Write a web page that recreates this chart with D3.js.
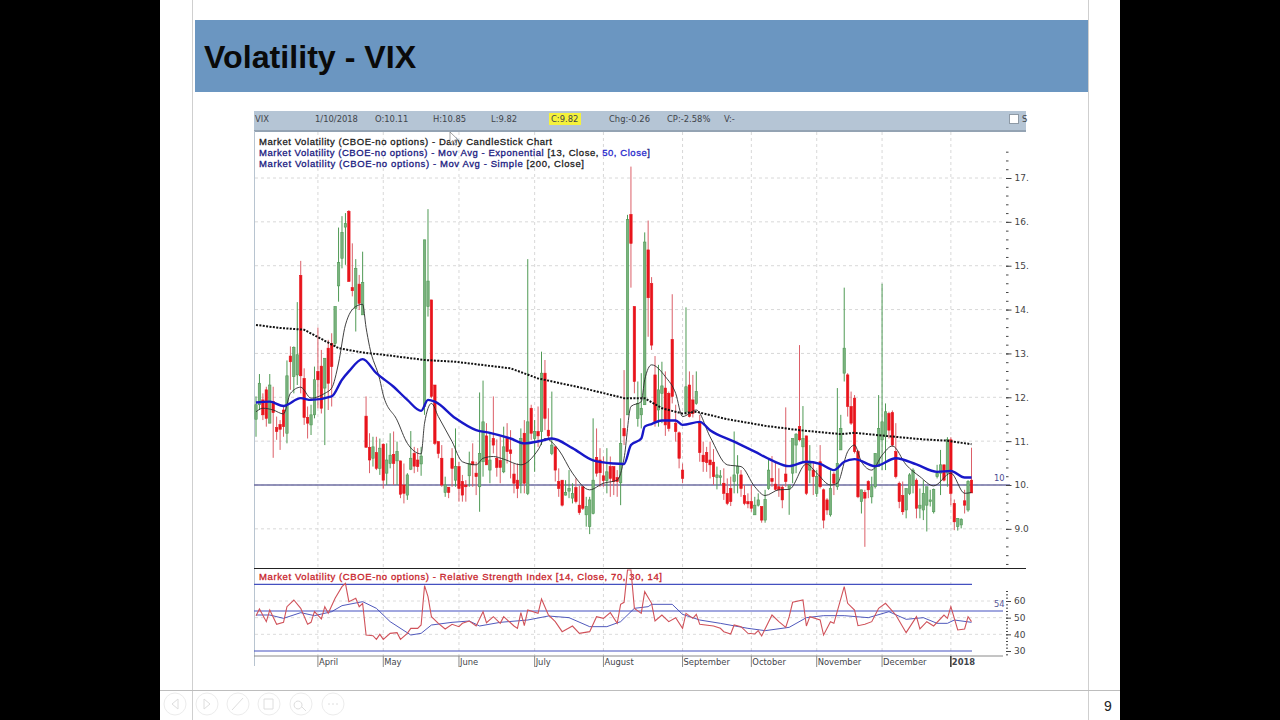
<!DOCTYPE html>
<html lang="en">
<head>
<meta charset="UTF-8">
<title>Volatility - VIX</title>
<script src="https://d3js.org/d3.v7.min.js"></script>
<style>
  html, body { margin: 0; padding: 0; background: #000; overflow: hidden; }
  svg { display: block; }
  .ui { font-family: "DejaVu Sans", sans-serif; font-size: 8.4px; fill: #3f444a; }
  .legend { font-family: "Liberation Sans", sans-serif; font-size: 9.5px; stroke-width: 0.3; }
  .axis text { font-family: "DejaVu Sans", sans-serif; font-size: 9px; fill: #444; }
  .axis path { display: none; }
  .axis line { stroke: #444; }
</style>
</head>
<body>
<script>
// ---- daily candles ----
const highs = [
  12.02,12.53,12.09,12.24,12.53,12.24,11.56,11.48,11.79,12.84,
  13.16,13.16,14.17,15.11,12.66,11.79,11.83,12.70,13.59,13.08,
  12.89,13.31,13.46,14.07,15.87,16.13,16.20,16.27,15.51,15.15,
  14.79,15.32,12.02,11.18,11.10,11.10,11.06,10.95,10.95,11.18,
  11.22,10.99,10.55,10.49,10.27,11.23,10.87,10.84,10.87,15.59,
  16.29,14.22,12.28,10.99,10.91,10.19,9.95,10.84,11.29,10.53,
  10.23,10.11,10.76,10.95,10.53,12.11,12.38,11.41,11.18,12.02,
  11.04,11.10,11.33,11.41,11.25,10.49,10.49,11.29,11.48,15.15,
  11.83,11.48,11.79,13.04,12.85,11.75,12.13,10.87,10.38,10.11,
  10.11,10.34,10.04,10.15,9.98,9.96,9.73,9.73,11.52,11.29,
  10.84,10.65,10.84,10.65,10.42,10.34,11.52,12.62,16.16,17.26,
  14.07,12.36,12.55,15.76,16.03,14.74,12.94,12.74,12.81,12.59,
  12.13,14.35,11.83,11.22,10.49,14.05,12.59,12.51,12.59,11.60,
  10.99,10.87,10.99,10.82,10.42,10.34,10.38,10.15,10.19,11.22,
  10.68,10.34,10.00,9.81,10.00,9.73,9.81,9.51,9.89,10.57,
  10.66,10.53,10.38,10.00,11.77,10.00,11.06,11.18,13.19,11.80,
  11.12,10.91,10.53,10.34,10.91,9.92,9.70,10.34,10.30,12.21,
  11.60,14.50,12.55,12.13,12.05,10.80,9.89,9.89,10.11,10.19,
  10.72,12.05,14.59,11.86,11.67,11.70,11.41,10.08,10.08,9.92,
  10.27,10.38,10.15,9.92,10.11,9.96,9.89,9.92,10.46,10.80,
  10.46,11.09,11.09,9.67,9.24,9.24,9.89,10.11,10.85];
const lows = [
  11.10,11.71,11.48,11.33,11.41,10.62,11.03,10.80,11.10,10.95,
  12.17,12.09,12.28,12.09,11.37,11.06,11.14,11.52,11.75,11.63,
  10.91,11.71,11.79,13.16,14.18,14.94,15.02,14.64,14.30,13.50,
  13.99,13.88,10.86,10.27,10.42,10.34,10.23,9.92,10.00,10.38,
  10.00,10.00,9.70,9.58,9.66,10.34,10.27,10.30,10.21,11.60,
  13.84,11.98,10.91,10.61,9.96,9.73,9.70,9.96,9.96,9.62,
  9.62,9.62,9.96,9.96,9.77,9.39,10.19,10.46,10.04,10.72,
  10.19,10.04,10.27,10.49,10.15,9.81,9.70,9.81,9.81,9.77,
  11.03,10.30,10.87,10.91,11.25,11.06,10.68,10.08,9.73,9.51,
  9.76,9.70,9.58,9.58,9.32,9.43,9.05,8.88,9.33,10.19,
  9.96,9.96,9.81,9.73,9.77,9.73,9.54,10.91,11.60,14.50,
  12.09,11.33,11.29,11.83,13.38,13.08,11.33,11.33,11.41,11.12,
  11.22,11.86,10.99,10.38,10.04,11.60,11.54,11.54,11.83,10.53,
  10.30,10.30,10.15,10.00,9.90,10.00,9.66,9.54,9.52,9.81,
  9.81,9.73,9.54,9.47,9.39,9.32,9.51,9.14,9.14,9.89,
  9.96,9.87,9.73,9.47,9.96,9.32,10.04,10.27,10.99,10.53,
  9.77,10.04,9.77,9.73,9.92,9.01,9.32,9.28,9.77,9.89,
  10.80,12.36,11.56,11.37,10.72,9.70,9.35,8.59,9.70,9.58,
  9.92,10.42,10.34,10.34,11.06,10.87,10.15,9.47,9.32,9.24,
  9.77,9.81,9.24,9.24,9.20,8.94,9.51,9.35,10.15,9.77,
  10.08,9.96,9.54,8.97,8.96,9.01,9.35,9.39,9.82];
const opens = [
  11.50,11.83,11.94,12.17,11.41,11.90,11.31,11.38,11.71,11.18,
  12.94,12.47,12.51,14.78,12.43,11.54,11.37,11.60,12.59,12.71,
  12.21,13.12,13.23,13.23,14.54,15.17,15.88,16.24,14.50,14.03,
  14.58,13.88,11.57,10.86,10.61,10.74,10.38,10.93,10.27,10.49,
  10.70,10.55,10.55,10.00,9.77,10.36,10.72,10.57,10.48,11.79,
  14.07,14.22,12.28,10.99,10.61,9.83,9.95,10.61,10.11,10.42,
  10.08,10.00,10.21,10.53,10.27,9.96,10.53,11.12,10.34,11.06,
  10.61,10.56,10.30,11.06,10.80,10.25,10.11,10.04,11.18,9.81,
  11.75,11.06,11.22,11.22,12.55,11.25,10.72,10.87,10.08,10.11,
  9.77,9.86,9.70,9.94,9.54,9.96,9.32,9.05,9.35,10.63,
  10.57,10.21,10.10,10.42,10.42,10.17,10.05,11.29,11.60,16.17,
  14.07,11.52,11.60,11.83,15.36,14.59,12.51,11.71,12.09,12.21,
  12.09,13.32,11.41,11.19,10.34,11.67,12.28,11.94,11.86,11.41,
  10.68,10.74,10.57,10.52,10.17,10.17,10.04,9.81,9.92,10.08,
  10.27,10.23,9.76,9.62,9.62,9.32,9.54,9.51,9.20,9.92,
  10.15,10.02,9.96,9.95,10.25,9.92,10.27,10.91,11.33,10.87,
  11.12,10.34,10.34,9.81,10.53,9.89,9.66,9.32,10.25,9.96,
  10.80,12.55,12.51,11.79,11.98,10.76,9.62,9.83,10.08,9.73,
  9.96,10.42,11.03,11.10,11.63,11.65,10.76,10.04,9.76,9.43,
  9.81,10.00,10.11,9.47,9.43,9.54,9.62,9.39,10.19,10.27,
  10.46,10.27,11.03,9.58,9.05,9.09,9.64,9.43,10.11];
const closes = [
  11.83,12.32,11.60,11.52,12.28,11.65,11.22,11.27,11.33,12.49,
  12.81,13.14,12.97,12.49,11.54,11.41,11.60,12.40,12.40,11.75,
  12.89,12.32,12.70,14.07,15.07,15.76,15.96,14.64,14.43,14.94,
  14.14,14.62,10.86,10.57,10.87,10.38,10.84,10.11,10.57,10.68,
  10.49,10.76,9.79,9.81,10.23,10.61,10.43,10.42,10.66,15.59,
  14.65,12.02,10.95,10.72,10.00,10.00,9.83,10.38,10.42,9.92,
  9.77,9.96,10.49,10.46,10.19,10.72,11.44,10.46,10.57,10.91,
  10.40,10.40,10.87,10.76,10.72,10.04,9.92,11.06,10.04,11.44,
  11.18,11.22,11.12,12.55,11.52,11.12,10.91,10.34,9.92,9.54,
  9.83,9.92,9.81,9.62,9.37,9.47,9.51,9.66,10.11,10.27,
  10.28,10.10,10.30,10.15,10.08,10.08,10.95,11.12,16.05,15.51,
  12.36,11.86,11.75,15.54,14.27,13.19,11.44,12.17,12.26,11.37,
  11.29,12.02,11.22,10.61,10.15,12.24,11.56,11.63,12.13,10.74,
  10.53,10.51,10.46,10.19,10.23,10.21,9.81,9.58,9.62,10.23,
  10.42,9.92,9.58,9.57,9.47,9.54,9.66,9.20,9.67,10.34,
  10.08,9.90,9.89,9.66,10.08,10.00,11.06,11.16,11.03,11.06,
  9.81,10.49,10.19,10.19,9.96,9.20,9.43,9.92,10.04,10.49,
  11.29,13.12,11.79,11.41,10.76,9.73,9.89,9.70,9.89,9.96,
  10.72,11.29,11.44,11.67,11.25,10.91,10.19,9.62,9.39,9.92,
  10.23,10.34,9.47,9.54,9.81,9.96,9.66,9.90,10.27,10.46,
  10.11,11.04,9.81,9.16,9.24,9.22,9.54,10.08,9.82];

// ---- moving averages: [bar, value] read at the visible bends ----
const ema13 = [[0,11.67],[2,11.75],[5,11.71],[8,11.62],[10,12.09],[13,12.23],[16,11.98],[20,12.09],[22,12.21],[24,12.78],[26,13.65],[29,14.07],[31,14.12],[32,13.59],[33,13.16],[36,12.40],[37,12.05],[41,11.48],[44,10.95],[48,10.71],[49,11.41],[51,11.86],[53,11.56],[57,10.99],[60,10.53],[64,10.46],[66,10.61],[69,10.65],[72,10.59],[77,10.46],[82,10.80],[84,11.06],[88,10.80],[92,10.27],[97,9.89],[101,10.04],[105,10.11],[107,10.61],[109,11.79],[112,11.90],[113,12.40],[115,12.74],[119,12.47],[122,12.09],[124,11.56],[128,11.71],[132,11.10],[137,10.46],[141,10.42],[145,9.96],[148,9.76],[152,9.89],[155,9.90],[160,10.48],[163,10.27],[167,10.00],[169,10.04],[172,10.76],[174,10.91],[176,10.53],[179,10.34],[182,10.68],[185,10.89],[189,10.46],[193,10.19],[197,9.98],[202,10.27],[206,9.81],[208,9.83]];
const ema50 = [[0,11.88],[4,11.90],[8,11.80],[13,11.98],[16,11.94],[22,12.02],[25,12.40],[27,12.59],[31,12.87],[35,12.55],[40,12.24],[44,11.94],[48,11.69],[50,11.94],[52,11.90],[58,11.52],[64,11.25],[68,11.19],[74,11.06],[78,10.95],[83,11.01],[86,11.06],[92,10.84],[98,10.56],[104,10.49],[107,10.48],[109,10.91],[112,11.06],[113,11.33],[115,11.39],[118,11.47],[122,11.47],[124,11.37],[129,11.44],[132,11.25],[139,10.99],[145,10.76],[150,10.56],[155,10.43],[160,10.53],[164,10.48],[168,10.34],[171,10.53],[174,10.59],[180,10.43],[186,10.61],[192,10.47],[198,10.30],[202,10.32],[206,10.17],[208,10.17]];
const sma200 = [[0,13.65],[7,13.58],[14,13.54],[24,13.12],[31,13.02],[37,12.97],[49,12.85],[58,12.81],[74,12.66],[82,12.43],[95,12.21],[107,11.98],[113,11.98],[118,11.75],[124,11.63],[128,11.67],[137,11.50],[148,11.35],[158,11.25],[170,11.16],[174,11.19],[183,11.12],[194,11.04],[201,11.01],[208,10.93]];

// ---- RSI panel ----
const rsi = [[0,51.2],[1,55.2],[3,47.6],[4,54.6],[6,46],[8,47.2],[9,56.6],[11,60.6],[13,55.6],[15,46],[16,47.2],[17,53.6],[19,49.2],[20,56.6],[21,52.6],[23,61.6],[25,68.6],[26,70.6],[27,59.6],[29,61.6],[30,56.6],[31,58.6],[32,39.6],[34,39.2],[35,37],[36,40],[37,37],[39,40.6],[41,41],[42,37],[44,40.6],[45,43.6],[47,43.6],[48,45.6],[49,69.2],[50,62.6],[51,50.6],[53,46.6],[55,43.2],[57,46],[59,44.6],[60,46.6],[62,48],[64,45],[66,53.6],[67,47],[69,50.6],[71,46.6],[72,50.6],[75,45],[76,43.6],[77,53],[78,45.2],[79,54.6],[82,52.6],[83,61.2],[85,51.6],[87,47.6],[89,41.6],[92,45],[94,40.6],[97,41.6],[99,50.6],[101,49.6],[103,53],[105,46.6],[106,58],[107,59.2],[108,78.6],[109,78.6],[110,55.6],[112,52.6],[113,65.6],[115,58.6],[116,48],[118,51.6],[120,47.6],[122,50],[124,43.6],[125,52.6],[127,49.6],[128,52],[129,46],[133,45],[135,43.6],[136,41.6],[138,40.2],[139,45.6],[141,44.6],[143,40.6],[145,40.2],[146,42.2],[147,39],[150,51.6],[152,47.6],[154,44.2],[155,50.6],[156,59.2],[159,60.6],[160,45],[161,50.6],[164,48.6],[165,39.6],[167,47.6],[168,46.6],[171,68.6],[172,58.6],[174,54.6],[175,45.2],[177,46],[179,47.6],[181,55.6],[183,58.6],[186,51.6],[189,41],[192,50.6],[193,43.2],[195,47.6],[197,45],[200,51.6],[201,49.6],[202,56.6],[204,42.6],[206,43.2],[207,50.6],[208,47.6]];
const rsiSignal = [[0,51.6],[4,51.6],[8,49.6],[13,53],[17,51.2],[22,53.6],[25,57.2],[31,59.6],[35,55.6],[39,47.6],[45,39.6],[48,40.6],[51,45.6],[57,47.2],[62,48],[65,45],[71,47.2],[79,48.6],[85,51],[91,50],[97,44.6],[102,44.6],[106,47.6],[110,55.6],[114,56.6],[115,58],[121,58],[124,52],[129,48.6],[135,46.6],[143,43.6],[148,42.2],[155,44.2],[160,50],[165,51.2],[171,51.2],[178,50],[184,53.6],[189,49],[194,50],[198,46.6],[201,46.6],[203,48.6],[208,47.2]];

// ---- axes and labels ----
const priceTicks = [9,10,11,12,13,14,15,16,17];
const priceLabels = ["9.0","10.","11.","12.","13.","14.","15.","16.","17."];
const priceMinorTicks = d3.range(41, 89).map(d => d / 5);
const rsiTicks = [30,40,50,60];
const rsiMinorTicks = d3.range(14, 34).map(d => d * 2);
const rsiLevels = [70,54,30];
const monthBars = [18,37,59,81,101,124,144,163,182,202];
const monthNames = ["April","May","June","July","August","September","October","November","December","2018"];
const headerItems = ["VIX","1/10/2018","O:10.11","H:10.85","L:9.82","C:9.82","Chg:-0.26","CP:-2.58%","V:-"];

const headerX = [255,315,375,433,491,551,609,667,724];
const width = 1280, height = 720;
const svg = d3.select("body").append("svg").attr("width", width).attr("height", height);

// slide
svg.append("rect").attr("x", 160).attr("width", 960).attr("height", 720).attr("fill", "#fff");
svg.append("line").attr("x1", 192.5).attr("x2", 192.5).attr("y1", 0).attr("y2", 720).attr("stroke", "#cfcfcf");
svg.append("line").attr("x1", 1088.5).attr("x2", 1088.5).attr("y1", 0).attr("y2", 720).attr("stroke", "#cfcfcf");
svg.append("line").attr("x1", 160).attr("x2", 1120).attr("y1", 690.5).attr("y2", 690.5).attr("stroke", "#bdbdbd");
svg.append("rect").attr("x", 195).attr("y", 20).attr("width", 893).attr("height", 72).attr("fill", "#6b96c1");
svg.append("text").attr("x", 204).attr("y", 68).attr("font-family", "Liberation Sans, sans-serif")
  .attr("font-size", 32.2).attr("font-weight", 700).attr("fill", "#0a0a0a").text("Volatility - VIX");
svg.append("text").attr("x", 1108).attr("y", 711).attr("text-anchor", "middle")
  .attr("font-family", "Liberation Sans, sans-serif").attr("font-size", 14).attr("fill", "#222").text("9");

// nav buttons at the bottom, very faint
const navX = [175,207,238,269,301,333];
const navGlyphs = ["M178 699 L172 704 L178 709 Z","M204 699 L210 704 L204 709 Z","M232 710 L243 698","M264 699 h9 v10 h-9 Z","M298 701 a4 4 0 1 0 .1 0 M302 707 l4 4","M328 704 h2 M332 704 h2 M336 704 h2"];
svg.selectAll(".nav").data(navX).enter().append("circle").attr("class", "nav")
  .attr("cx", d => d).attr("cy", 704).attr("r", 11).attr("fill", "none").attr("stroke", "#ececec");
svg.selectAll(".navg").data(navGlyphs).enter().append("path").attr("class", "navg")
  .attr("d", d => d).attr("fill", "none").attr("stroke", "#dedede");

// scales
const x = d3.scaleLinear().domain([0, 208]).range([256, 971.5]);
const yPrice = d3.scaleLinear().domain([10, 17]).range([485, 178]);
const yRsi = d3.scaleLinear().domain([30, 60]).range([651, 601]);

// chart header bar
svg.append("rect").attr("x", 254).attr("y", 111).attr("width", 772).attr("height", 20).attr("fill", "#b5c5d5");
svg.append("rect").attr("x", 254).attr("y", 130).attr("width", 772).attr("height", 2).attr("fill", "#94a3b3");
svg.append("rect").attr("x", 549).attr("y", 113).attr("width", 32).attr("height", 12).attr("fill", "#f5f23c");
svg.selectAll(".hdr").data(headerItems).enter().append("text").attr("class", "ui hdr")
  .attr("x", (d, i) => headerX[i]).attr("y", 122).text(d => d);
svg.append("rect").attr("x", 1009.5).attr("y", 114.5).attr("width", 9).attr("height", 9)
  .attr("fill", "#fff").attr("stroke", "#8e9aa6");
svg.append("text").attr("class", "ui").attr("x", 1022).attr("y", 122).text("S");

// panel frame
svg.append("line").attr("x1", 254.5).attr("x2", 254.5).attr("y1", 131).attr("y2", 666).attr("stroke", "#b8c4d0");

// grid
const dash = "3 3";
svg.selectAll(".vgrid").data(monthBars).enter().append("line").attr("class", "vgrid")
  .attr("x1", d => x(d)).attr("x2", d => x(d)).attr("y1", 132).attr("y2", 656)
  .attr("stroke", "#d8d8d8").attr("stroke-dasharray", dash);
svg.selectAll(".hgrid").data(priceTicks).enter().append("line").attr("class", "hgrid")
  .attr("x1", 255).attr("x2", 1005).attr("y1", d => yPrice(d)).attr("y2", d => yPrice(d))
  .attr("stroke", "#d8d8d8").attr("stroke-dasharray", dash);
svg.selectAll(".rgrid").data(rsiTicks.filter(d => d !== 30)).enter().append("line").attr("class", "rgrid")
  .attr("x1", 255).attr("x2", 1005).attr("y1", d => yRsi(d)).attr("y2", d => yRsi(d))
  .attr("stroke", "#dcdcdc").attr("stroke-dasharray", dash);

// line at the last level
svg.append("line").attr("x1", 254).attr("x2", 1010).attr("y1", yPrice(10)).attr("y2", yPrice(10))
  .attr("stroke", "#6f6fa3").attr("stroke-width", 1.3);

// candles
const bars = d3.range(highs.length);
const isUp = i => closes[i] > opens[i];
svg.selectAll(".wick").data(bars).enter().append("line").attr("class", "wick")
  .attr("x1", d => x(d)).attr("x2", d => x(d))
  .attr("y1", d => yPrice(highs[d])).attr("y2", d => yPrice(lows[d]))
  .attr("stroke", d => isUp(d) ? "#4f9a55" : "#dc5f68").attr("stroke-width", 1);
svg.selectAll(".body").data(bars).enter().append("rect").attr("class", "body")
  .attr("x", d => x(d) - 1.2).attr("width", 2.4)
  .attr("y", d => yPrice(Math.max(opens[d], closes[d])))
  .attr("height", d => Math.max(1.2, Math.abs(yPrice(opens[d]) - yPrice(closes[d]))))
  .attr("fill", d => isUp(d) ? "#7ab27e" : "#e8141c")
  .attr("stroke", d => isUp(d) ? "#4f9a55" : "#e8141c").attr("stroke-width", 0.6);

// moving averages
const lineP = d3.line().x(d => x(d[0])).y(d => yPrice(d[1]));
svg.append("path").attr("d", lineP(sma200)).attr("fill", "none").attr("stroke", "#111")
  .attr("stroke-width", 2).attr("stroke-dasharray", "2 1.4");
svg.append("path").attr("d", lineP.curve(d3.curveMonotoneX)(ema13)).attr("fill", "none")
  .attr("stroke", "#2b2b2b").attr("stroke-width", 0.9);
svg.append("path").attr("d", lineP.curve(d3.curveMonotoneX)(ema50)).attr("fill", "none")
  .attr("stroke", "#1818c8").attr("stroke-width", 2.4);

// price axis
svg.append("g").attr("class", "axis").attr("transform", "translate(1006,0)")
  .call(d3.axisRight(yPrice).tickValues(priceMinorTicks).tickSize(2.5).tickFormat(""));
svg.append("g").attr("class", "axis").attr("transform", "translate(1006,0)")
  .call(d3.axisRight(yPrice).tickValues(priceTicks).tickSize(5.5).tickPadding(3)
    .tickFormat((d, i) => priceLabels[i]));
svg.append("text").attr("class", "ui").attr("x", 994).attr("y", 481)
  .style("fill", "#4a4a90").text("10");

// legends
const legendLines = [
  {y: 145, len: 293, parts: [["Market Volatility (CBOE-no options) - Daily CandleStick Chart", "#1c1c1c"]]},
  {y: 156, len: 391, parts: [["Market Volatility (CBOE-no options) - Mov Avg - Exponential ", "#1a1a80"], ["[13, Close, ", "#222"], ["50, Close", "#2a2acc"], ["]", "#1a1a80"]]},
  {y: 167, len: 325, parts: [["Market Volatility (CBOE-no options) - Mov Avg - Simple ", "#1a1a80"], ["[200, Close]", "#222"]]},
  {y: 580, len: 403, parts: [["Market Volatility (CBOE-no options) - Relative Strength Index [14, Close, 70, 30, 14]", "#c8242c"]]}
];
legendLines.forEach(l => {
  const t = svg.append("text").attr("class", "legend").attr("x", 259).attr("y", l.y)
    .attr("textLength", l.len).attr("lengthAdjust", "spacing");
  l.parts.forEach(p => t.append("tspan").attr("fill", p[1]).attr("stroke", p[1]).text(p[0]));
});

// RSI panel
svg.append("line").attr("x1", 254).attr("x2", 1026).attr("y1", 568.5).attr("y2", 568.5).attr("stroke", "#222").attr("stroke-width", 1.2);
svg.append("line").attr("x1", 254).attr("x2", 1003).attr("y1", 656).attr("y2", 656).attr("stroke", "#8a8a8a");
svg.selectAll(".level").data(rsiLevels).enter().append("line").attr("class", "level")
  .attr("x1", 254).attr("x2", d => d === 54 ? 1003 : 972)
  .attr("y1", d => yRsi(d)).attr("y2", d => yRsi(d))
  .attr("stroke", "#4450c0").attr("stroke-width", 1.1);
const lineR = d3.line().x(d => x(d[0])).y(d => yRsi(d[1]));
svg.append("path").attr("d", lineR(rsiSignal)).attr("fill", "none").attr("stroke", "#3c46b4").attr("stroke-width", 0.9);
svg.append("path").attr("d", lineR(rsi)).attr("fill", "none").attr("stroke", "#d0525a").attr("stroke-width", 1.1);
svg.append("g").attr("class", "axis").attr("transform", "translate(1006,0)")
  .call(d3.axisRight(yRsi).tickValues(rsiMinorTicks).tickSize(2).tickFormat(""));
svg.append("g").attr("class", "axis").attr("transform", "translate(1006,0)")
  .call(d3.axisRight(yRsi).tickValues(rsiTicks).tickSize(5).tickPadding(3));
svg.append("text").attr("class", "ui").attr("x", 994).attr("y", 607).style("fill", "#5a5a98").text("54");

// month axis
svg.selectAll(".mtick").data(monthBars).enter().append("line").attr("class", "mtick")
  .attr("x1", d => x(d)).attr("x2", d => x(d)).attr("y1", 656).attr("y2", 667)
  .attr("stroke", (d, i) => i === 9 ? "#222" : "#8a8a8a").attr("stroke-width", (d, i) => i === 9 ? 1.4 : 1);
svg.selectAll(".mlab").data(monthBars).enter().append("text").attr("class", "ui mlab")
  .attr("x", d => x(d) + 1).attr("y", 665)
  .attr("font-weight", (d, i) => i === 9 ? 700 : 400).text((d, i) => monthNames[i]);

// mouse pointer left on the slide
svg.append("path").attr("d", "M450 132 l0 11 l3 -2.5 l2 4.5 l1.5 -.7 l-2 -4.2 l3.5 -.4 Z")
  .attr("fill", "#fff").attr("stroke", "#666").attr("stroke-width", 0.6);
</script>
</body>
</html>
